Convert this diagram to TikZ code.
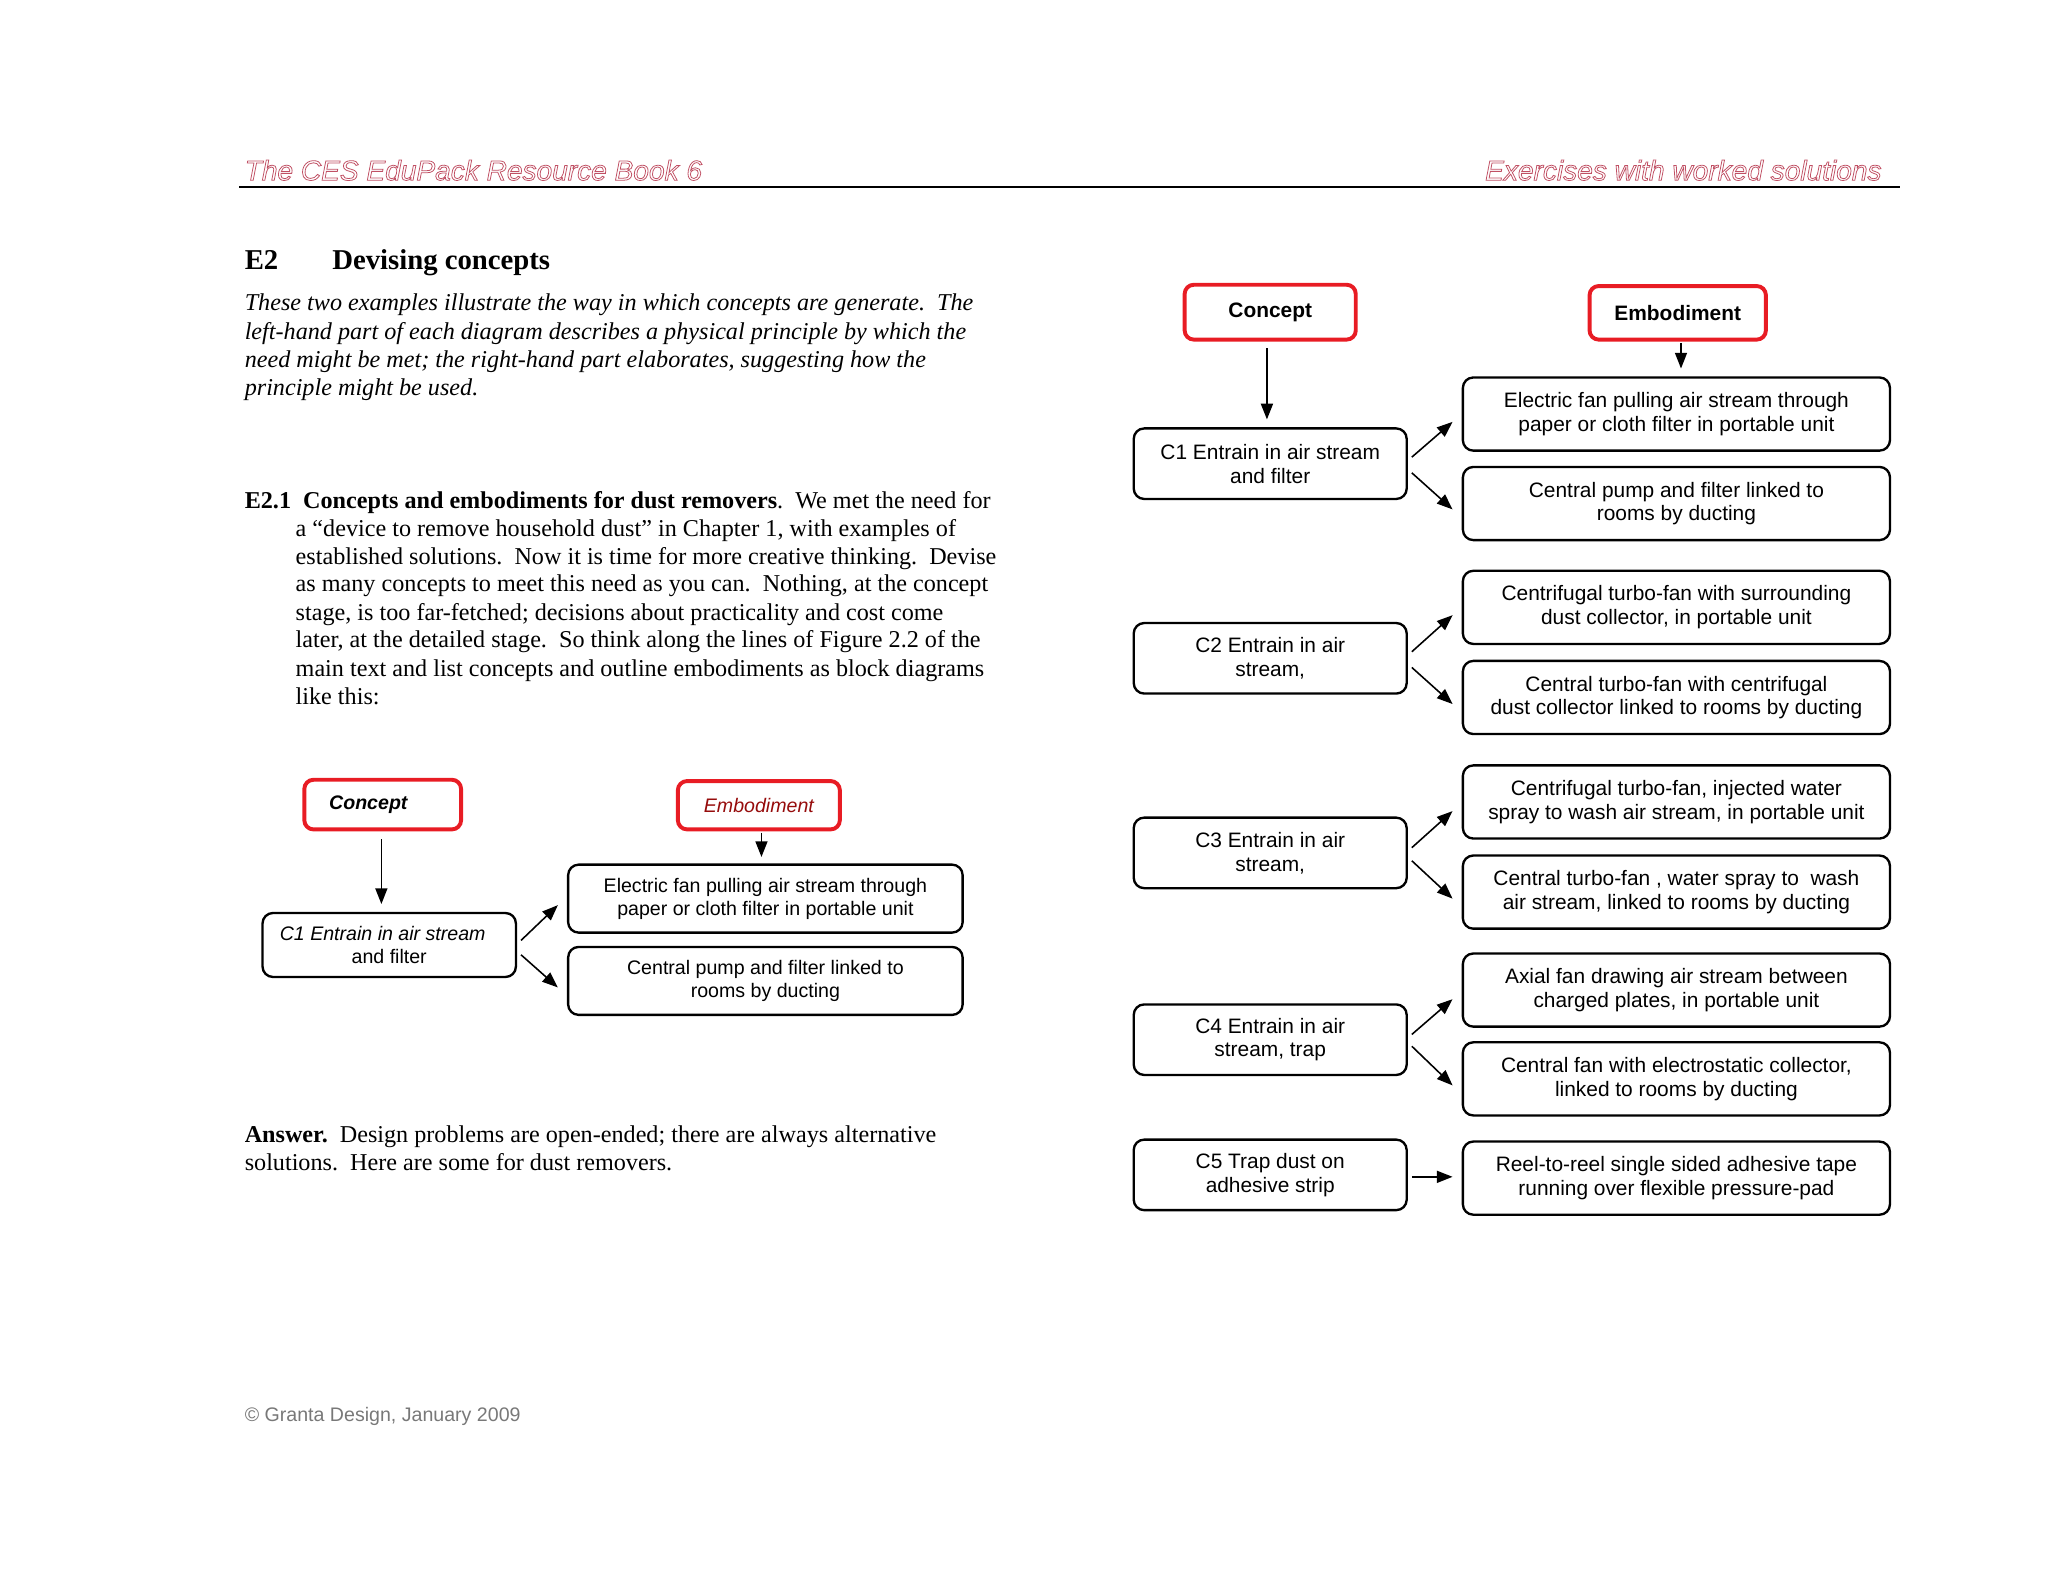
\documentclass[tikz,border=0pt]{standalone}
\usepackage{fontspec}
\setmainfont{Liberation Serif}
\setsansfont{Liberation Sans}
\usetikzlibrary{arrows.meta,calc}
\definecolor{hdr}{RGB}{192,80,100}
\definecolor{boxred}{RGB}{232,28,36}
\definecolor{darkred}{RGB}{150,12,12}
\definecolor{foot}{RGB}{120,120,120}
\newcommand{\outlinedtext}[1]{\special{pdf:literal direct 1 Tr 0.3 w}#1\special{pdf:literal direct 0 Tr}}
\begin{document}
\begin{tikzpicture}[x=0.5pt,y=-0.5pt,
  box/.style={draw, line width=0.9pt, rounded corners=4pt, align=center, inner sep=0pt,
    font=\sffamily\fontsize{8}{9.1}\selectfont},
  cbox/.style={box, minimum width=104.5pt, minimum height=27pt},
  ebox/.style={box, minimum width=163.5pt, minimum height=28pt},
  redbox/.style={draw=boxred, line width=1.5pt, rounded corners=3.5pt, inner sep=0pt, align=center},
  lbox/.style={box, font=\sffamily\fontsize{7.5}{8.75}\selectfont},
  arr/.style={line width=0.6pt, -{Triangle[length=6pt,width=4.6pt]}},
  body/.style={anchor=base west, inner sep=0pt, font=\fontsize{9.25}{10.75}\selectfont},
  hdrtext/.style={inner sep=0pt, text=hdr, font=\sffamily\itshape\fontsize{10.75}{13}\selectfont},
]
\useasboundingbox (0,0) rectangle (1568,1211);

% header
\node[hdrtext, anchor=base west] (hl) at (187,138) {\outlinedtext{The CES EduPack Resource Book 6}};
\node[hdrtext, anchor=base east] (hr) at (1441,138) {\outlinedtext{Exercises with worked solutions}};
\draw[line width=0.8pt] (183,143) -- (1455,143);

% title
\node[anchor=base west, inner sep=0pt, font=\bfseries\fontsize{11}{13}\selectfont] (t1) at (187,206) {E2};
\node[anchor=base west, inner sep=0pt, font=\bfseries\fontsize{11}{13}\selectfont] (t2) at (254,206) {Devising concepts};

% intro
\node[body, font=\itshape\fontsize{9.25}{10.75}\selectfont] (i1) at (187,238) {These two examples illustrate the way in which concepts are generate.\ \ The};
\node[body, font=\itshape\fontsize{9.25}{10.75}\selectfont] (i2) at (187,260) {left-hand part of each diagram describes a physical principle by which the};
\node[body, font=\itshape\fontsize{9.25}{10.75}\selectfont] (i3) at (187,281) {need might be met; the right-hand part elaborates, suggesting how the};
\node[body, font=\itshape\fontsize{9.25}{10.75}\selectfont] (i4) at (187,303) {principle might be used.};

% E2.1
\node[body] (p1) at (187,389) {\textbf{E2.1\ \ Concepts and embodiments for dust removers}.\ \ We met the need for};
\node[body] (p2) at (226,411) {a “device to remove household dust” in Chapter 1, with examples of};
\node[body] (p3) at (226,432) {established solutions.\ \ Now it is time for more creative thinking.\ \ Devise};
\node[body] (p4) at (226,453) {as many concepts to meet this need as you can.\ \ Nothing, at the concept};
\node[body] (p5) at (226,475) {stage, is too far-fetched; decisions about practicality and cost come};
\node[body] (p6) at (226,496) {later, at the detailed stage.\ \ So think along the lines of Figure 2.2 of the};
\node[body] (p7) at (226,518) {main text and list concepts and outline embodiments as block diagrams};
\node[body] (p8) at (226,539) {like this:};

% answer
\node[body] (a1) at (187,875) {\textbf{Answer.}\ \ Design problems are open-ended; there are always alternative};
\node[body] (a2) at (187,896) {solutions.\ \ Here are some for dust removers.};

% footer
\node[anchor=base west, inner sep=0pt, text=foot, font=\sffamily\fontsize{7.5}{9}\selectfont] (ft) at (187,1088) {© Granta Design, January 2009};

% ---- small example diagram ----
\node[redbox, minimum width=60pt, minimum height=19pt, text width=41pt, align=left,
      font=\sffamily\bfseries\itshape\fontsize{7.5}{9}\selectfont] (lcon) at (293,616) {Concept};
\node[redbox, minimum width=62pt, minimum height=18.5pt, text=darkred,
      font=\sffamily\itshape\fontsize{7.5}{9}\selectfont] (lemb) at (581,616.5) {Embodiment};
\node[lbox, minimum width=97pt, minimum height=24.5pt] (lc1) at (298,723.5) {\itshape C1 Entrain in air stream\hspace*{5pt}\\and filter};
\node[lbox, minimum width=151pt, minimum height=26pt] (le1) at (586,688) {Electric fan pulling air stream through\\paper or cloth filter in portable unit};
\node[lbox, minimum width=151pt, minimum height=26pt] (le2) at (586,751) {Central pump and filter linked to\\rooms by ducting};
\draw[arr] ($(lcon.south|-lcon.south)+(-1,6)$) -- ($(lcon.south|-lc1.north)+(-1,-6)$);
\draw[arr] ($(lemb.south)+(2,1)$) -- ($(lemb.south|-le1.north)+(2,-5)$);
\draw[arr] ($(lc1.east)+(3,-3.5)$) -- ($(le1.west)+(-7,5)$);
\draw[arr] ($(lc1.east)+(3,7.5)$) -- ($(le2.west)+(-7,5)$);

% ---- answer diagram ----
\node[redbox, minimum width=65.5pt, minimum height=21pt, font=\sffamily\bfseries\fontsize{8}{9.4}\selectfont] (rcon) at (972.5,239) {Concept};
\node[redbox, minimum width=67.5pt, minimum height=20.5pt, font=\sffamily\bfseries\fontsize{8}{9.4}\selectfont] (remb) at (1284.5,239.5) {Embodiment};

\node[cbox] (c1) at (972.5,355) {C1 Entrain in air stream\\and filter};
\node[cbox] (c2) at (972.5,504) {C2 Entrain in air\\stream,};
\node[cbox] (c3) at (972.5,653) {C3 Entrain in air\\stream,};
\node[cbox] (c4) at (972.5,796) {C4 Entrain in air\\stream, trap};
\node[cbox] (c5) at (972.5,899.5) {C5 Trap dust on\\adhesive strip};

\node[ebox] (e1) at (1283.5,317) {Electric fan pulling air stream through\\paper or cloth filter in portable unit};
\node[ebox] (e2) at (1283.5,385.5) {Central pump and filter linked to\\rooms by ducting};
\node[ebox] (e3) at (1283.5,465) {Centrifugal turbo-fan with surrounding\\dust collector, in portable unit};
\node[ebox] (e4) at (1283.5,534) {Central turbo-fan with centrifugal\\dust collector linked to rooms by ducting};
\node[ebox] (e5) at (1283.5,614) {Centrifugal turbo-fan, injected water\\spray to wash air stream, in portable unit};
\node[ebox] (e6) at (1283.5,683) {Central turbo-fan , water spray to\ \ wash\\air stream, linked to rooms by ducting};
\node[ebox] (e7) at (1283.5,758) {Axial fan drawing air stream between\\charged plates, in portable unit};
\node[ebox] (e8) at (1283.5,826) {Central fan with electrostatic collector,\\linked to rooms by ducting};
\node[ebox] (e9) at (1283.5,902) {Reel-to-reel single sided adhesive tape\\running over flexible pressure-pad};

\draw[arr] ($(rcon.south)+(-2.5,5)$) -- ($(c1.north)+(-2.5,-6)$);
\draw[arr] ($(remb.south)+(2.5,1)$) -- ($(remb.south|-e1.north)+(2.5,-6)$);

\draw[arr] ($(c1.east)+(3,-5)$) -- ($(e1.west)+(-7,6)$);
\draw[arr] ($(c1.east)+(3,7)$) -- ($(e2.west)+(-7,4.5)$);
\draw[arr] ($(c2.east)+(3,-5)$) -- ($(e3.west)+(-7,6)$);
\draw[arr] ($(c2.east)+(3,7)$) -- ($(e4.west)+(-7,5)$);
\draw[arr] ($(c3.east)+(3,-4)$) -- ($(e5.west)+(-7,7)$);
\draw[arr] ($(c3.east)+(3,6)$) -- ($(e6.west)+(-7,5)$);
\draw[arr] ($(c4.east)+(3,-4)$) -- ($(e7.west)+(-7,7)$);
\draw[arr] ($(c4.east)+(3,5)$) -- ($(e8.west)+(-7,5)$);
\draw[arr] ($(c5.east)+(3,1.5)$) -- ($(e9.west)+(-7,-1)$);
\end{tikzpicture}
\end{document}
